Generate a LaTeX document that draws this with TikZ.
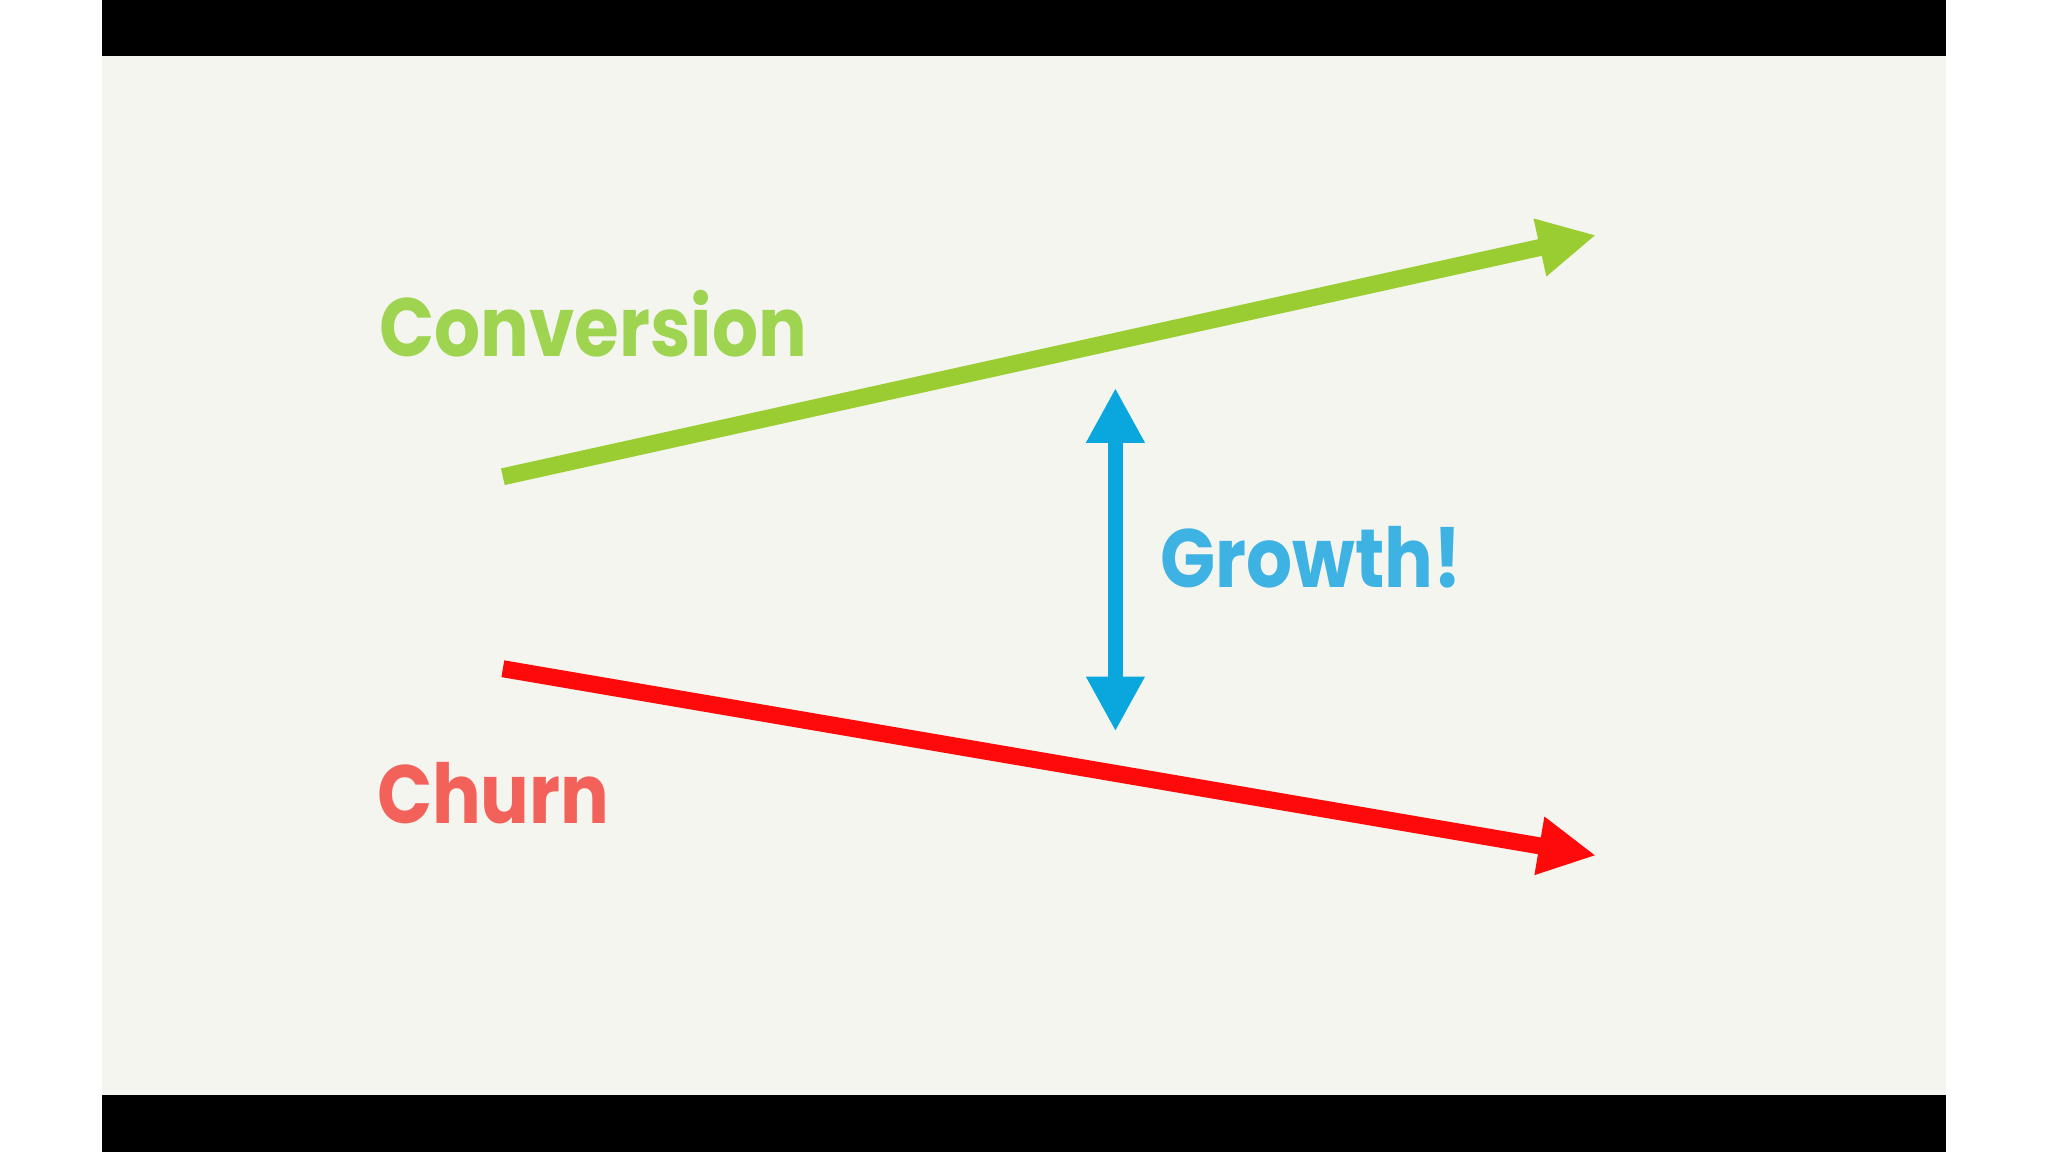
\documentclass[tikz,border=0pt]{standalone}
\usepackage{fontspec}
\setmainfont{Poppins}
\usetikzlibrary{arrows.meta}
\definecolor{bg}{HTML}{F4F5EF}
\definecolor{cgreen}{HTML}{9ACD32}
\definecolor{clabgreen}{HTML}{9FD451}
\definecolor{cred}{HTML}{FF0A0A}
\definecolor{clabred}{HTML}{F2625A}
\definecolor{cblue}{HTML}{0AA6DE}
\definecolor{clabblue}{HTML}{3DB2E3}
\newcommand{\narrowtext}[1]{\scalebox{0.875}[1]{#1}}
\tikzset{
  trend/.style={line width=0.13cm, -{Triangle[length=0.44cm,width=0.42cm]}},
  lab/.style={font=\fontsize{18}{22}\selectfont\bfseries, inner sep=0pt, anchor=west}
}
\begin{document}
\begin{tikzpicture}[x=0.01cm,y=-0.01cm]
\useasboundingbox (0,0) rectangle (1568,882);
\fill[white] (0,0) rectangle (1568,882);
\fill[bg] (78,43) rectangle (1490,838);
\fill[black] (78,0) rectangle (1490,43);
\fill[black] (78,838) rectangle (1490,882);
\coordinate (gs) at (385,365); \coordinate (ge) at (1222,180);
\coordinate (rs) at (385,512); \coordinate (re) at (1222,655);
\coordinate (bs) at (854,297); \coordinate (be) at (854,560);
\draw[trend, cgreen] (gs) -- (ge);
\draw[trend, cred] (rs) -- (re);
\draw[line width=0.11cm, cblue, {Triangle[length=0.42cm,width=0.42cm]}-{Triangle[length=0.42cm,width=0.42cm]}] (bs) -- (be);
\node[lab, text=clabgreen] (conv) at (290,248) {\narrowtext{Conversion}};
\node[lab, text=clabred] (churn) at (288,607) {\narrowtext{Churn}};
\node[lab, text=clabblue] (grow) at (888,427) {\narrowtext{Growth!}};
\end{tikzpicture}
\end{document}
